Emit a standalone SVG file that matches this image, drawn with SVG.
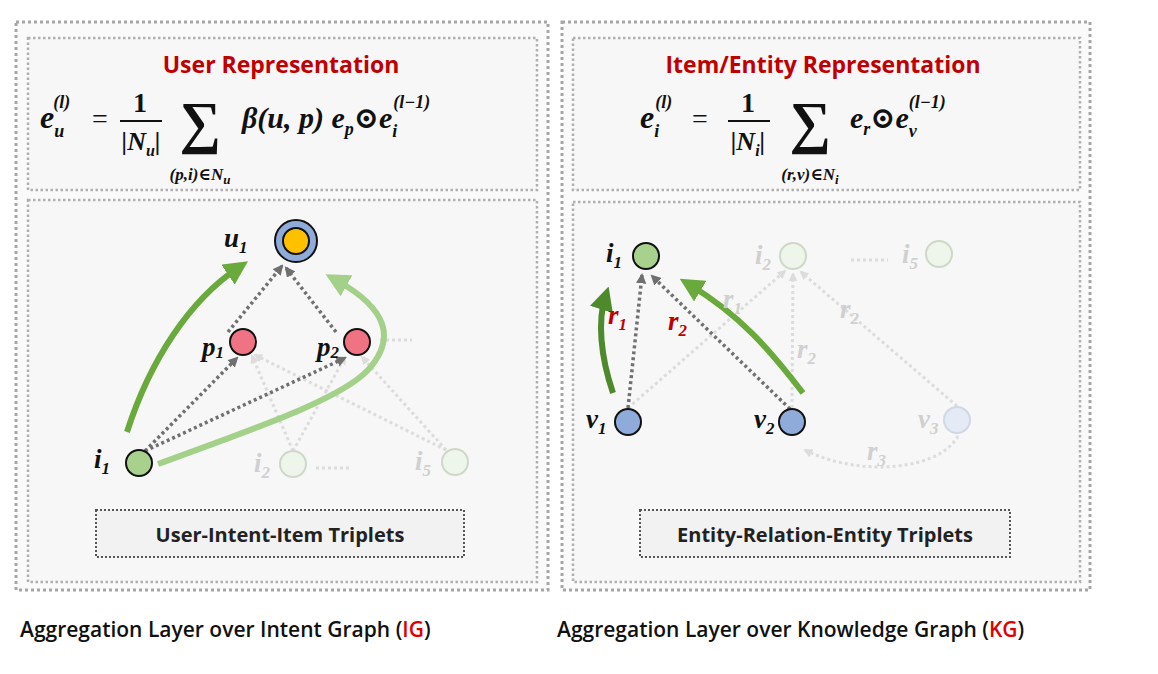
<svg xmlns="http://www.w3.org/2000/svg" width="1158" height="674" viewBox="0 0 1158 674">
<style>
.box{fill:#fafafa;stroke:#a6a6a6;stroke-width:3;stroke-dasharray:3 3}
.inner{fill:#f7f7f7;stroke:#b0b0b0;stroke-width:2.5;stroke-dasharray:2.5 2.5}
.t{font-family:"Open Sans","Liberation Sans",Arial,sans-serif}
.title{font-family:"Open Sans","Liberation Sans",Arial,sans-serif;font-weight:bold;font-size:23px;fill:#c00000}
.m{font-family:"Liberation Serif","DejaVu Serif",serif;font-style:italic;font-weight:bold;fill:#111}
.lbl{font-family:"Liberation Serif",serif;font-style:italic;font-weight:bold;font-size:27px;fill:#111}
.fade{fill:#d0d0d0}
.dk{stroke:#707070;stroke-width:3.5;stroke-dasharray:3 3;fill:none}
.lt{stroke:#dcdcdc;stroke-width:3;stroke-dasharray:3 3;fill:none}
.node{stroke:#111;stroke-width:2}
.fnode{stroke:#cfd8c8;stroke-width:2}
</style>
<defs>
<marker id="ad" viewBox="0 0 10 10" refX="8" refY="5" markerWidth="3" markerHeight="3" orient="auto"><path d="M0,0L10,5L0,10z" fill="#707070"/></marker>
<marker id="al" viewBox="0 0 10 10" refX="8" refY="5" markerWidth="3" markerHeight="3" orient="auto"><path d="M0,0L10,5L0,10z" fill="#dcdcdc"/></marker>
<marker id="ag" viewBox="0 0 10 10" refX="5" refY="5" markerWidth="4" markerHeight="4" orient="auto"><path d="M0,0L10,5L0,10z" fill="#6aaa3c"/></marker>
<marker id="ag2" viewBox="0 0 10 10" refX="5" refY="5" markerWidth="4" markerHeight="4" orient="auto"><path d="M0,0L10,5L0,10z" fill="#a3d18a"/></marker>
<marker id="ag3" viewBox="0 0 10 10" refX="5" refY="5" markerWidth="4" markerHeight="4" orient="auto"><path d="M0,0L10,5L0,10z" fill="#4e8a2c"/></marker>
</defs>
<rect width="1158" height="674" fill="#fff"/>
<rect class="box" x="16" y="22" width="532" height="568"/>
<rect class="inner" x="28" y="38" width="509" height="152"/>
<rect class="inner" x="28" y="200" width="509" height="382"/>
<rect class="box" x="562" y="22" width="528" height="568"/>
<rect class="inner" x="573" y="38" width="507" height="152"/>
<rect class="inner" x="573" y="202" width="507" height="380"/>

<text class="title" x="281" y="73" text-anchor="middle">User Representation</text>
<text class="title" x="823" y="73" text-anchor="middle">Item/Entity Representation</text>

<g id="formula-left" class="m">
<text x="40" y="128" font-size="32">e<tspan font-size="18" dy="9">u</tspan><tspan font-size="18" dx="-11" dy="-29">(l)</tspan></text>
<text x="92" y="128" font-size="28" font-weight="normal" font-style="normal">=</text>
<text x="140" y="112" font-size="28" font-style="normal" text-anchor="middle">1</text>
<line x1="120" y1="121" x2="162" y2="121" stroke="#111" stroke-width="2"/>
<text x="141" y="150" font-size="26" text-anchor="middle">|N<tspan font-size="16" dy="6">u</tspan><tspan dy="-6">|</tspan></text>
<text x="200" y="142" font-size="58" font-style="normal" font-weight="bold" text-anchor="middle">∑</text>
<text x="200" y="180" font-size="17" text-anchor="middle">(p,i)∈N<tspan font-size="13" dy="4">u</tspan></text>
<text x="242" y="128" font-size="30">β(u, p) e<tspan font-size="18" dy="7">p</tspan><tspan dy="-7" font-style="normal">⊙</tspan>e<tspan font-size="18" dy="9">i</tspan><tspan font-size="18" dx="-4" dy="-29">(l−1)</tspan></text>
</g>
<g id="formula-right" class="m">
<text x="640" y="128" font-size="32">e<tspan font-size="18" dy="9">i</tspan><tspan font-size="18" dx="-4" dy="-29">(l)</tspan></text>
<text x="692" y="128" font-size="28" font-weight="normal" font-style="normal">=</text>
<text x="748" y="112" font-size="28" font-style="normal" text-anchor="middle">1</text>
<line x1="728" y1="121" x2="770" y2="121" stroke="#111" stroke-width="2"/>
<text x="748" y="150" font-size="26" text-anchor="middle">|N<tspan font-size="16" dy="6">i</tspan><tspan dy="-6">|</tspan></text>
<text x="810" y="142" font-size="58" font-style="normal" font-weight="bold" text-anchor="middle">∑</text>
<text x="810" y="180" font-size="17" text-anchor="middle">(r,v)∈N<tspan font-size="13" dy="4">i</tspan></text>
<text x="850" y="128" font-size="30">e<tspan font-size="18" dy="7">r</tspan><tspan dy="-7" font-style="normal">⊙</tspan>e<tspan font-size="18" dy="9">v</tspan><tspan font-size="18" dx="-8" dy="-29">(l−1)</tspan></text>
</g>

<g id="connectors">
<line class="lt" x1="293" y1="451" x2="252" y2="356" marker-end="url(#al)"/>
<line class="lt" x1="293" y1="451" x2="345" y2="357" marker-end="url(#al)"/>
<line class="lt" x1="446" y1="450" x2="255" y2="355" marker-end="url(#al)"/>
<line class="lt" x1="446" y1="450" x2="362" y2="357" marker-end="url(#al)"/>
<line class="lt" x1="380" y1="340" x2="412" y2="340"/>
<line class="lt" x1="316" y1="468" x2="352" y2="468"/>
<line class="dk" x1="145" y1="451" x2="237" y2="358" marker-end="url(#ad)"/>
<line class="dk" x1="145" y1="451" x2="345" y2="358" marker-end="url(#ad)"/>
<line class="dk" x1="228" y1="332" x2="282" y2="266" marker-end="url(#ad)"/>
<line class="dk" x1="336" y1="332" x2="286" y2="268" marker-end="url(#ad)"/>
<path d="M127,432 C150,360 190,300 238,268" fill="none" stroke="#6aaa3c" stroke-width="6" marker-end="url(#ag)"/>
<path d="M158,464 C250,430 340,400 368,370 C395,340 390,310 336,280" fill="none" stroke="#a3d18a" stroke-width="6" marker-end="url(#ag2)"/>
<line class="lt" x1="628" y1="408" x2="785" y2="271" marker-end="url(#al)"/>
<line class="lt" x1="792" y1="408" x2="793" y2="274" marker-end="url(#al)"/>
<line class="lt" x1="957" y1="406" x2="801" y2="272" marker-end="url(#al)"/>
<line class="lt" x1="851" y1="260" x2="888" y2="260"/>
<path class="lt" d="M958,436 C940,470 860,478 805,450" marker-end="url(#al)"/>
<line class="dk" x1="628" y1="408" x2="642" y2="275" marker-end="url(#ad)"/>
<line class="dk" x1="790" y1="409" x2="652" y2="276" marker-end="url(#ad)"/>
<path d="M613,393 C600,355 598,320 605,298" fill="none" stroke="#4e8a2c" stroke-width="6" marker-end="url(#ag3)"/>
<path d="M803,393 C770,350 740,315 690,285" fill="none" stroke="#6aaa3c" stroke-width="6" marker-end="url(#ag)"/>
</g>

<g id="node-u1"><circle cx="296" cy="241" r="21" fill="#8fabd9" class="node"/><circle cx="296" cy="241" r="13" fill="#ffc000" class="node"/><text class="lbl" x="224" y="247">u<tspan font-size="17" dy="6">1</tspan></text></g>
<g id="node-p1"><circle cx="243" cy="342" r="13" fill="#f07384" class="node"/><text class="lbl" x="202" y="356">p<tspan font-size="17" dy="2">1</tspan></text></g>
<g id="node-p2"><circle cx="357" cy="342" r="13" fill="#f07384" class="node"/><text class="lbl" x="317" y="356">p<tspan font-size="17" dy="2">2</tspan></text></g>
<g id="node-i1-left"><circle cx="139" cy="463" r="13" fill="#a9d18e" class="node"/><text class="lbl" x="94" y="468">i<tspan font-size="17" dy="6">1</tspan></text></g>
<g id="node-i2-left"><circle cx="293" cy="464" r="13" fill="#eef5ea" class="fnode"/><text class="lbl fade" x="254" y="472">i<tspan font-size="17" dy="6">2</tspan></text></g>
<g id="node-i5-left"><circle cx="455" cy="462" r="13" fill="#eef5ea" class="fnode"/><text class="lbl fade" x="415" y="470">i<tspan font-size="17" dy="6">5</tspan></text></g>

<g id="node-i1-right"><circle cx="646" cy="256" r="13" fill="#a9d18e" class="node"/><text class="lbl" x="606" y="262">i<tspan font-size="17" dy="6">1</tspan></text></g>
<g id="node-i2-right"><circle cx="793" cy="256" r="13" fill="#eef5ea" class="fnode"/><text class="lbl fade" x="755" y="264">i<tspan font-size="17" dy="6">2</tspan></text></g>
<g id="node-i5-right"><circle cx="939" cy="254" r="13" fill="#eef5ea" class="fnode"/><text class="lbl fade" x="902" y="263">i<tspan font-size="17" dy="6">5</tspan></text></g>
<g id="node-v1"><circle cx="628" cy="422" r="13" fill="#8fabd9" class="node"/><text class="lbl" x="586" y="428">v<tspan font-size="17" dy="6">1</tspan></text></g>
<g id="node-v2"><circle cx="792" cy="422" r="13" fill="#8fabd9" class="node"/><text class="lbl" x="754" y="428">v<tspan font-size="17" dy="6">2</tspan></text></g>
<g id="node-v3"><circle cx="957" cy="420" r="13" fill="#e4ebf6" stroke="#d0d8e4" stroke-width="2"/><text class="lbl fade" x="918" y="428">v<tspan font-size="17" dy="6">3</tspan></text></g>

<g id="rel-labels">
<text class="lbl" x="608" y="324" style="fill:#c00000">r<tspan font-size="17" dy="6">1</tspan></text>
<text class="lbl" x="668" y="330" style="fill:#c00000">r<tspan font-size="17" dy="6">2</tspan></text>
<text class="lbl fade" x="723" y="308">r<tspan font-size="17" dy="6">1</tspan></text>
<text class="lbl fade" x="840" y="318">r<tspan font-size="17" dy="6">2</tspan></text>
<text class="lbl fade" x="797" y="358">r<tspan font-size="17" dy="6">2</tspan></text>
<text class="lbl fade" x="867" y="460">r<tspan font-size="17" dy="6">3</tspan></text>
</g>

<g id="triplet-left"><rect x="96" y="510" width="368" height="47" fill="#f2f2f2" stroke="#555" stroke-width="2" stroke-dasharray="2 2"/><text class="t" x="280" y="542" font-size="20" font-weight="bold" fill="#222" text-anchor="middle">User-Intent-Item Triplets</text></g>
<g id="triplet-right"><rect x="640" y="510" width="370" height="47" fill="#f2f2f2" stroke="#555" stroke-width="2" stroke-dasharray="2 2"/><text class="t" x="825" y="542" font-size="20" font-weight="bold" fill="#222" text-anchor="middle">Entity-Relation-Entity Triplets</text></g>

<text class="t" x="20" y="637" font-size="21" fill="#111" font-weight="600">Aggregation Layer over Intent Graph (<tspan fill="#e00000">IG</tspan>)</text>
<text class="t" x="557" y="637" font-size="21" fill="#111" font-weight="600">Aggregation Layer over Knowledge Graph (<tspan fill="#e00000">KG</tspan>)</text>
</svg>
